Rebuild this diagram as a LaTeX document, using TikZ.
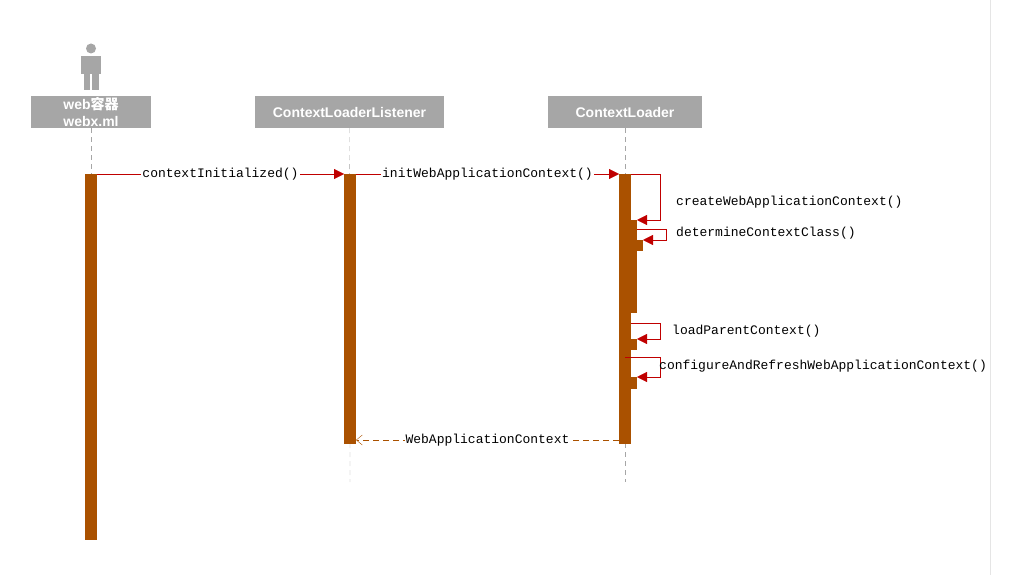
\documentclass[tikz,border=0pt]{standalone}
\usepackage{fontspec}
\setmainfont{Liberation Sans}
\newfontfamily\monof{Liberation Mono}
\newfontfamily\cjk{Noto Sans CJK SC}
\usetikzlibrary{arrows.meta}
\definecolor{hdr}{HTML}{A6A6A6}
\definecolor{bar}{HTML}{AA5100}
\definecolor{msg}{HTML}{C00000}
\begin{document}
\begin{tikzpicture}[x=1pt,y=-1pt,
  head/.style={fill=hdr,draw=none,text=white,font=\bfseries\fontsize{14}{17}\selectfont,align=center,inner sep=0},
  life/.style={draw=gray!70,dashed,dash pattern=on 5pt off 4pt},
  act/.style={fill=bar,draw=none},
  call/.style={draw=msg,-{Triangle[length=10pt,width=10pt]}},
  ret/.style={draw=bar,dashed,dash pattern=on 6pt off 4pt,-{Straight Barb[length=6pt,width=10pt]}},
  lbl/.style={font=\monof\fontsize{13}{15}\selectfont,fill=white,inner sep=1pt},
  lblr/.style={font=\monof\fontsize{13}{15}\selectfont,anchor=west,inner sep=1pt}]
\useasboundingbox (0,0) rectangle (1014,575);
\draw[gray!20] (990,0) -- (990,575);
% person
\fill[hdr] (91,48.5) circle (5);
\fill[hdr] (81,56) rectangle (101,74);
\fill[hdr] (83.5,74) rectangle (90,90);
\fill[hdr] (92,74) rectangle (98.5,90);
% headers
\node[head,minimum width=120pt,minimum height=32pt] (w) at (91,112) {web{\cjk 容器}\\webx.ml};
\node[head,minimum width=189pt,minimum height=32pt] (l) at (349.5,112) {ContextLoaderListener};
\node[head,minimum width=154pt,minimum height=32pt] (c) at (625,112) {ContextLoader};
% lifelines
\draw[life] (w.south) -- (91,540);
\draw[life] (l.south) -- (350,482);
\draw[life] (c.south) -- (625,482);
% activations
\fill[act] (85,174) rectangle (97,540);
\fill[act] (344,174) rectangle (356,444);
\fill[act] (619,174) rectangle (631,444);
\fill[act] (625,220) rectangle (637,313);
\fill[act] (630,240) rectangle (643,251);
\fill[act] (625,339) rectangle (637,350);
\fill[act] (625,377) rectangle (637,389);
% messages
\coordinate (a1) at (97,174); \coordinate (a2) at (344,174);
\draw[call] (a1) -- node[lbl] {contextInitialized()} (a2);
\coordinate (b1) at (356,174); \coordinate (b2) at (619,174);
\draw[call] (b1) -- node[lbl] {initWebApplicationContext()} (b2);
\coordinate (s1) at (631,174); \coordinate (s2) at (637,220);
\draw[call] (s1) -- (660,174) -- (660,220) -- (s2);
\node[lblr] at (675,202) {createWebApplicationContext()};
\coordinate (d1) at (637,229); \coordinate (d2) at (643,240);
\draw[call] (d1) -- (666,229) -- (666,240) -- (d2);
\node[lblr] at (675,233) {determineContextClass()};
\coordinate (p1) at (631,323); \coordinate (p2) at (637,339);
\draw[call] (p1) -- (660,323) -- (660,339) -- (p2);
\node[lblr] at (671,331) {loadParentContext()};
\coordinate (q1) at (625,357); \coordinate (q2) at (637,377);
\draw[call] (q1) -- (660,357) -- (660,377) -- (q2);
\node[lblr] at (658,366) {configureAndRefreshWebApplicationContext()};
\coordinate (r1) at (619,440); \coordinate (r2) at (356,440);
\draw[ret] (r1) -- node[lbl] {WebApplicationContext} (r2);
\end{tikzpicture}
\end{document}
